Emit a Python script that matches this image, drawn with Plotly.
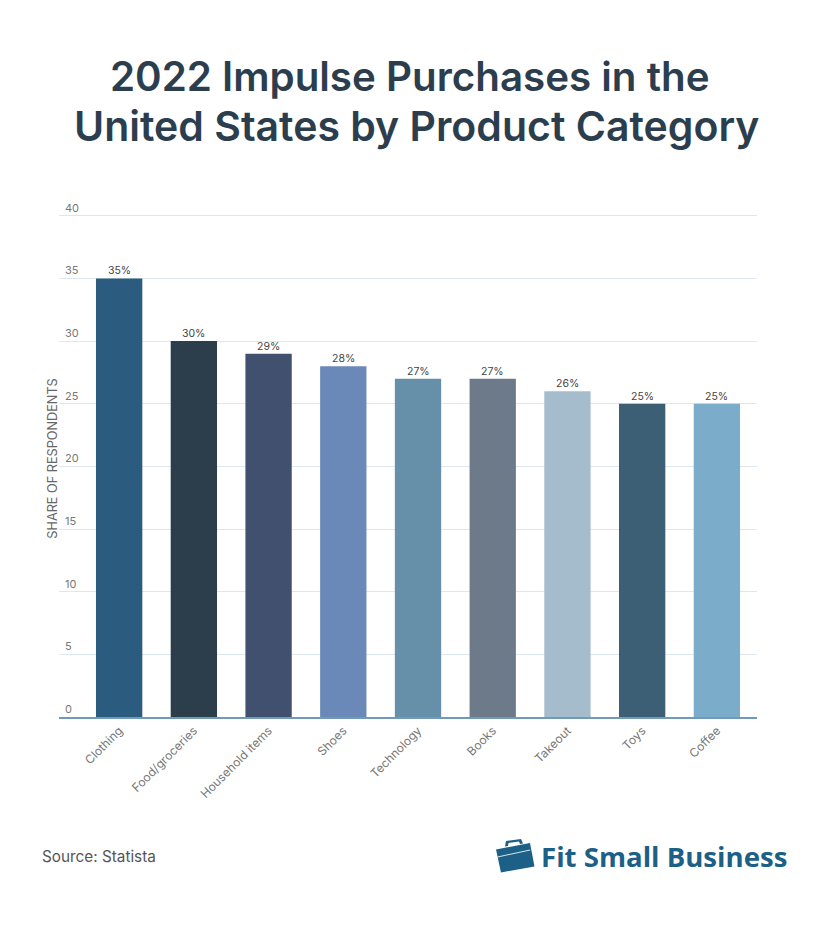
import plotly.graph_objects as go

categories = ["Clothing", "Food/groceries", "Household items", "Shoes", "Technology",
              "Books", "Takeout", "Toys", "Coffee"]
shares = [35, 30, 29, 28, 27, 27, 26, 25, 25]
bar_colors = ["#2b5c80", "#2c3e4c", "#41506f", "#6a89b8", "#668fa9",
              "#6c7a8a", "#a5bccc", "#3c5f75", "#7bacc9"]
y_ticks = [0, 5, 10, 15, 20, 25, 30, 35, 40]

FONT = "Inter"
WIDTH, HEIGHT = 830, 930
# The plot area runs a little past 40 so the top tick label fits inside it
Y_MAX = 41.5
LEFT, RIGHT, TOP, BOTTOM = 59, 757, 197.2, 717.5
BRAND = "#1c6087"


def px(x):
    return (x - LEFT) / (RIGHT - LEFT)


def py(y):
    return (BOTTOM - y) / (BOTTOM - TOP)


def poly(points):
    return "M " + " L ".join(f"{px(x):.4f},{py(y):.4f}" for x, y in points) + " Z"


fig = go.Figure(go.Bar(
    x=categories,
    y=shares,
    width=0.62,
    marker=dict(color=bar_colors, line=dict(width=0)),
    hoverinfo="skip",
))

fig.update_layout(
    width=WIDTH,
    height=HEIGHT,
    autosize=False,
    margin=dict(l=LEFT, r=WIDTH - RIGHT, t=TOP, b=HEIGHT - BOTTOM, pad=0),
    paper_bgcolor="white",
    plot_bgcolor="white",
    showlegend=False,
    font=dict(family=FONT),
    xaxis=dict(
        range=[-0.805, 8.537],
        tickangle=-45,
        tickfont=dict(family=FONT, size=12, color="#777777"),
        showline=True,
        linecolor="#6f9ab8",
        linewidth=2,
        ticks="",
        showgrid=False,
    ),
    yaxis=dict(
        range=[0, Y_MAX],
        tickvals=y_ticks,
        ticklabelposition="inside",
        ticklabelshift=-8,
        ticklabelstandoff=3,
        tickfont=dict(family=FONT, size=11, color="#777777"),
        showgrid=True,
        gridcolor="#dde7ef",
        gridwidth=1,
        zeroline=False,
        ticks="",
    ),
)

# Value labels sitting just above each bar
for category, value in zip(categories, shares):
    fig.add_annotation(
        text=f"{value}%", x=category, y=value, xanchor="center", yanchor="bottom",
        yshift=-1, showarrow=False, font=dict(family=FONT, size=10.5, color="#444444"),
    )

# Two-line headline, each line placed and sized on its own
for text, cx, cy, size in [("2022 Impulse Purchases in the", 409.5, 77, 40.3),
                           ("United States by Product Category", 416, 126, 41)]:
    fig.add_annotation(
        text=text, xref="paper", yref="paper", x=px(cx), y=py(cy),
        xanchor="center", yanchor="middle", showarrow=False,
        font=dict(family=FONT, size=size, weight=600, color="#2c3e4e"),
    )

fig.add_annotation(
    text="SHARE OF RESPONDENTS", xref="paper", yref="paper", x=px(53), y=py(459),
    xanchor="center", yanchor="middle", textangle=-90, showarrow=False,
    font=dict(family=FONT, size=12.7, color="#666666"),
)
fig.add_annotation(
    text="Source: Statista", xref="paper", yref="paper", x=px(40), y=py(857),
    xanchor="left", yanchor="middle", showarrow=False,
    font=dict(family=FONT, size=15.3, color="#555555"),
)
fig.add_annotation(
    text="Fit Small Business", xref="paper", yref="paper", x=px(538.5), y=py(857),
    xanchor="left", yanchor="middle", showarrow=False,
    font=dict(family="Open Sans", size=27.6, weight=700, color=BRAND),
)

# Briefcase emblem beside the wordmark
case_body = poly([(496, 850), (530, 843.5), (534.5, 867), (501, 873)])
case_handle = poly([(505, 847), (506, 841.5), (521, 839.5), (523, 844), (520, 844.5),
                    (519, 842), (508.5, 843.5), (508, 846.5)])
clasp_line = poly([(497.5, 857), (530, 850), (530.2, 851), (497.7, 858)])
fig.add_shape(type="path", path=case_body, xref="paper", yref="paper",
              fillcolor=BRAND, line=dict(width=0))
fig.add_shape(type="path", path=case_handle, xref="paper", yref="paper",
              fillcolor=BRAND, line=dict(width=0))
fig.add_shape(type="path", path=clasp_line, xref="paper", yref="paper",
              fillcolor="#d5e3ec", line=dict(width=0))

fig.write_html("out.html")
